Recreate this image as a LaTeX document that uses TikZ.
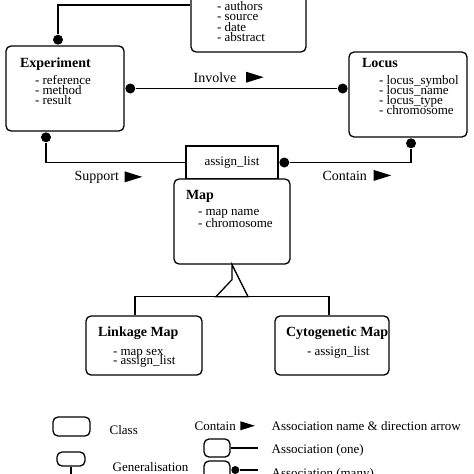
\documentclass[tikz,border=0pt]{standalone}
\usepackage{fontspec}
\setmainfont{Liberation Serif}
\lineskiplimit=-20pt
\tikzset{
  cls/.style={draw,rounded corners=5pt,inner sep=0pt},
  dot/.style={circle,fill,inner sep=0pt,minimum size=10pt},
  ttl/.style={anchor=base west,inner sep=0pt,font=\fontsize{14}{14}\selectfont\bfseries},
  item/.style={anchor=north west,inner sep=0pt,align=left,font=\fontsize{13}{#1}\selectfont},
  item/.default=10,
  lbl/.style={anchor=base west,inner sep=0pt,font=\fontsize{14}{14}\selectfont},
  leg/.style={anchor=base west,inner sep=0pt,font=\fontsize{13}{13}\selectfont},
}
\newcommand\dirarrow[3]{\fill ([xshift=#1]#2) ++(0,-#3/2) -- ++(#3*1.6,#3/2) -- ++(-#3*1.6,#3/2) -- cycle;}

\begin{document}
\begin{tikzpicture}[x=1pt,y=-1pt,line width=1.3pt]
\useasboundingbox (0,0) rectangle (474,474);
\clip (0,0) rectangle (474,474);

% classes
\node[cls,minimum width=115pt,minimum height=94pt] (pub) at (248.5,5) {};
\node[cls,minimum width=118pt,minimum height=85pt] (exp) at (65,88.5) {};
\node[cls,minimum width=118pt,minimum height=85pt] (loc) at (408,94.5) {};
\node[draw,inner sep=0pt,minimum width=92pt,minimum height=33pt,font=\fontsize{13}{13}\selectfont] (asg) at (232,162.5) {assign\_list};
\node[cls,minimum width=116pt,minimum height=85pt,fill=white] (map) at (232,221.5) {};
\node[cls,minimum width=116pt,minimum height=59pt] (lnk) at (144,345.5) {};
\node[cls,minimum width=114pt,minimum height=59pt] (cyt) at (332,345.5) {};

\node[item=10.5] (pubi) at ([shift={(26,-52)}]pub.south west) {- authors\\- source\\- date\\- abstract};
\node[ttl] (expt) at ([shift={(14,22)}]exp.north west) {Experiment};
\node[item] (expi) at ([shift={(29,29)}]exp.north west) {- reference\\- method\\- result};
\node[ttl] (loct) at ([shift={(13,16)}]loc.north west) {Locus};
\node[item] (loci) at ([shift={(30,23)}]loc.north west) {- locus\_symbol\\- locus\_name\\- locus\_type\\- chromosome};
\node[ttl] (mapt) at ([shift={(12,21)}]map.north west) {Map};
\node[item=12] (mapi) at ([shift={(24,30)}]map.north west) {- map name\\- chromosome};
\node[ttl] (lnkt) at ([shift={(12,21)}]lnk.north west) {Linkage Map};
\node[item=9] (lnki) at ([shift={(27,33)}]lnk.north west) {- map sex\\- assign\_list};
\node[ttl] (cytt) at ([shift={(11,21)}]cyt.north west) {Cytogenetic Map};
\node[item] (cyti) at ([shift={(32,30)}]cyt.north west) {- assign\_list};

% associations
\node[dot,anchor=south] (d1) at ([xshift=-7pt]exp.north) {};
\draw (d1) |- (pub.west);
\node[dot,anchor=west] (d2) at (exp.east) {};
\node[dot,anchor=east] (d3) at (loc.west |- d2) {};
\draw (d2) -- (d3);
\node[dot,anchor=north] (d4) at ([xshift=-19pt]exp.south) {};
\draw (d4) |- (asg.west);
\node[dot,anchor=north] (d5) at ([xshift=3pt]loc.south) {};
\node[dot,anchor=west] (d6) at (asg.east) {};
\draw (d5) |- (d6);

\node[lbl] (inv) at (193,82) {Involve};
\dirarrow{9pt}{inv.east}{11}
\node[lbl] (sup) at (74,180) {Support};
\dirarrow{5pt}{sup.east}{11}
\node[lbl] (con) at (322,180) {Contain};
\dirarrow{6pt}{con.east}{11}

% generalisation
\coordinate (bar) at ([yshift=-32pt]map.south);
\draw (map.south) -- ++(0,15) coordinate (apex) -- ([xshift=-16pt]bar) -- ([xshift=16pt]bar) -- cycle;
\draw ([xshift=-9pt]lnk.north) |- (bar) -| ([xshift=-3pt]cyt.north);

% legend
\node[cls,minimum width=37pt,minimum height=19pt] (lc) at (71.5,426.5) {};
\node[leg] (lct) at (109,434) {Class};
\node[cls,minimum width=28pt,minimum height=14pt] (lg) at (71,459) {};
\draw (lg.south) -- ++(0,20);
\node[leg] (lgt) at (112,471) {Generalisation};
\node[leg] (lat) at (194,430) {Contain};
\dirarrow{4pt}{lat.east}{9}
\node[leg] (lan) at (271,430) {Association name \& direction arrow};
\node[cls,minimum width=26pt,minimum height=18pt] (la1) at (217,448) {};
\draw (la1.east) -- ++(27,0);
\node[leg] (la1t) at (271,453) {Association (one)};
\node[cls,minimum width=26pt,minimum height=18pt] (la2) at (217,470) {};
\node[dot,minimum size=8pt,anchor=west] (lad) at (la2.east) {};
\draw (lad) -- ++(23,0);
\node[leg] (la2t) at (271,477) {Association (many)};

\end{tikzpicture}
\end{document}
